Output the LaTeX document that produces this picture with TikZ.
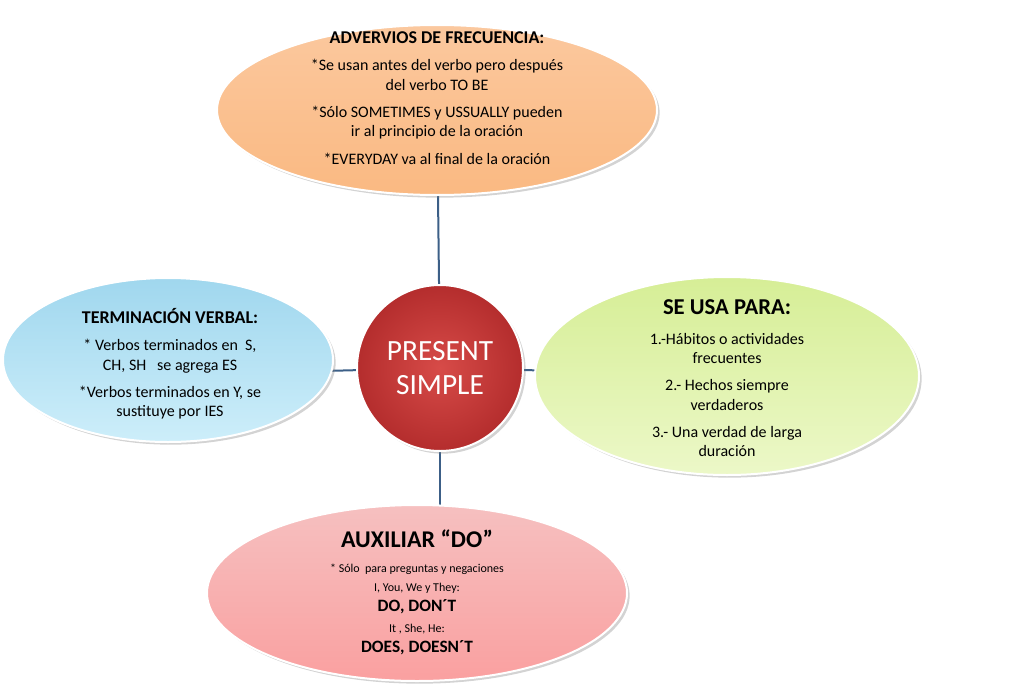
\documentclass[tikz,border=0pt]{standalone}
\usepackage{fontspec}
\setmainfont{Carlito}
\usetikzlibrary{shadows}
\definecolor{linkc}{RGB}{60,95,135}
\begin{document}
\begin{tikzpicture}[x=0.75pt,y=-0.75pt,
  bub/.style={draw=white,line width=1.5pt,drop shadow={opacity=0.35,shadow xshift=2pt,shadow yshift=-2pt}},
  link/.style={draw=linkc,line width=1.5pt},
  txt/.style={align=center,font=\fontsize{12}{14.5}\selectfont}]
\useasboundingbox (0,0) rectangle (1030,692);
\coordinate (c) at (440,368);
\coordinate (ct0) at (437,110);
\coordinate (cl0) at (168,375);
\coordinate (cr0) at (727,375);
\coordinate (cb0) at (440,593);
\draw[link] (ct0) -- (c);
\draw[link] (cl0) -- (c);
\draw[link] (cr0) -- (c);
\draw[link] (cb0) -- (c);
\path[bub,top color={rgb,255:red,251;green,200;blue,158},bottom color={rgb,255:red,250;green,185;blue,130}] (437,110) ellipse [x radius=220,y radius=85];
\path[bub,top color={rgb,255:red,160;green,215;blue,238},bottom color={rgb,255:red,205;green,238;blue,250}] (168,360) ellipse [x radius=165,y radius=82];
\path[bub,top color={rgb,255:red,214;green,238;blue,150},bottom color={rgb,255:red,236;green,248;blue,200}] (727,376) ellipse [x radius=192,y radius=99];
\path[bub,top color={rgb,255:red,246;green,192;blue,192},bottom color={rgb,255:red,250;green,160;blue,160}] (417,593) ellipse [x radius=210,y radius=88];
\path[bub,inner color={rgb,255:red,215;green,75;blue,72},outer color={rgb,255:red,180;green,45;blue,45}] (c) circle [radius=83];
\node (ct) at (c) [align=center,text=white,font=\fontsize{22}{26}\selectfont] {PRESENT\\SIMPLE};
\node (top) at (437,98) [txt] {{\fontsize{13.5}{16}\selectfont\textbf{ADVERVIOS DE FRECUENCIA:}}\\[6pt]*Se usan antes del verbo pero después\\del verbo TO BE\\[6pt]*Sólo SOMETIMES y USSUALLY pueden\\ir al principio de la oración\\[6pt]*EVERYDAY va al final de la oración};
\node (lft) at (170,364) [txt] {{\fontsize{13.5}{16}\selectfont\textbf{TERMINACIÓN VERBAL:}}\\[6pt]* Verbos terminados en\ \ S,\\CH, SH\ \ \ se agrega ES\\[6pt]*Verbos terminados en Y, se\\sustituye por IES};
\node (rgt) at (727,378) [txt] {{\fontsize{17}{20}\selectfont\textbf{SE USA PARA:}}\\[8pt]1.-Hábitos o actividades\\frecuentes\\[6pt]2.- Hechos siempre\\verdaderos\\[6pt]3.- Una verdad de larga\\duración};
\node (bot) at (417,592) [align=center,font=\fontsize{9}{11}\selectfont] {{\fontsize{18}{21}\selectfont\textbf{AUXILIAR “DO”}}\\[8pt]* Sólo\ \ para preguntas y negaciones\\[3pt]I, You, We y They:\\[4pt]{\fontsize{13}{15}\selectfont\textbf{DO, DON´T}}\\[5pt]It , She, He:\\[4pt]{\fontsize{13}{15}\selectfont\textbf{DOES, DOESN´T}}};
\end{tikzpicture}
\end{document}
